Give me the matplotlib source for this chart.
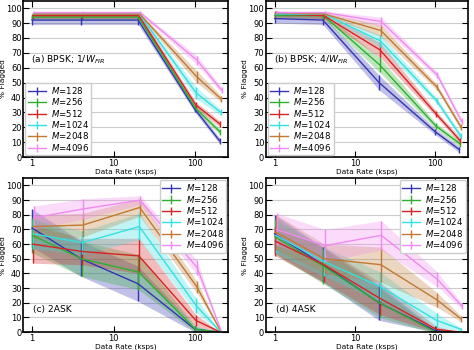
import matplotlib
matplotlib.use('Agg')
import matplotlib.pyplot as plt
import numpy as np

rates = [1, 4, 20, 100, 200]
m_values = [128, 256, 512, 1024, 2048, 4096]
colors = ['#3434b4', '#2eb02e', '#d42424', '#34e0e0', '#c07a34', '#f08af0']

# panel (a) BPSK 1/W_FIR
a_vals = [[92, 92, 92, 32, 11],
          [94, 94, 94, 33, 17],
          [95, 95, 95, 35, 22],
          [96, 96, 96, 43, 30],
          [96, 96, 96, 54, 39],
          [97, 97, 97, 65, 45]]
a_err = [[3, 3, 3, 2, 2],
         [2, 2, 2, 2, 2],
         [2, 2, 2, 2, 2],
         [1, 1, 1, 4, 2],
         [1, 1, 1, 4, 2],
         [1, 1, 1, 3, 2]]

# panel (b) BPSK 4/W_FIR
b_vals = [[93, 92, 50, 17, 5],
          [95, 95, 62, 21, 9],
          [96, 95, 72, 29, 11],
          [96, 96, 78, 38, 14],
          [97, 96, 85, 47, 20],
          [97, 97, 91, 55, 24]]
b_err = [[3, 3, 5, 2, 2],
         [2, 2, 5, 2, 2],
         [2, 2, 5, 2, 2],
         [1, 1, 4, 2, 2],
         [1, 1, 4, 2, 2],
         [1, 1, 3, 2, 2]]

# panel (c) 2ASK
c_vals = [[71, 50, 33, 2, 0],
          [66, 50, 41, 2, 0],
          [60, 55, 52, 8, 0],
          [67, 61, 72, 18, 0],
          [72, 73, 85, 31, 0],
          [78, 84, 90, 44, 0]]
c_err = [[13, 12, 12, 2, 0],
         [12, 12, 12, 2, 0],
         [13, 9, 12, 4, 0],
         [10, 8, 9, 5, 0],
         [8, 8, 6, 4, 0],
         [8, 7, 3, 5, 0]]

# panel (d) 4ASK
d_vals = [[67, 46, 20, 1, 0],
          [65, 45, 20, 0, 0],
          [62, 46, 23, 2, 0],
          [66, 48, 31, 8, 2],
          [68, 50, 46, 22, 9],
          [70, 59, 66, 36, 18]]
d_err = [[13, 12, 12, 1, 0],
         [12, 12, 10, 1, 0],
         [10, 12, 11, 2, 0],
         [12, 10, 10, 5, 1],
         [12, 10, 12, 5, 2],
         [11, 11, 10, 5, 2]]

panels = [
    (a_vals, a_err, '(a) BPSK; $1/W_{FIR}$', 'lower left', [0.049, 0.551, 0.432, 0.447]),
    (b_vals, b_err, '(b) BPSK; $4/W_{FIR}$', 'lower left', [0.561, 0.551, 0.426, 0.447]),
    (c_vals, c_err, '(c) 2ASK', 'upper right', [0.049, 0.051, 0.432, 0.440]),
    (d_vals, d_err, '(d) 4ASK', 'upper right', [0.561, 0.051, 0.426, 0.440]),
]

fig = plt.figure(figsize=(4.74, 3.5), dpi=100)

for vals, errs, label, loc, rect in panels:
    ax = fig.add_axes(rect)
    for i, m in enumerate(m_values):
        x = np.array(rates) * (1.012 ** i)
        y = np.array(vals[i], dtype=float)
        e = np.array(errs[i], dtype=float)
        ax.fill_between(x, y - e, y + e, color=colors[i], alpha=0.3, lw=0)
        ax.errorbar(x, y, yerr=e, color=colors[i], lw=1.0, elinewidth=1.0,
                    capsize=0, label='$M$=%d' % m)
    ax.set_xscale('log')
    ax.set_xlim(0.78, 254)
    ax.set_ylim(0, 105)
    ax.set_yticks(range(0, 101, 10))
    ax.set_xticks([1, 10, 100])
    ax.set_xticklabels(['1', '10', '100'])
    ax.xaxis.set_minor_locator(matplotlib.ticker.NullLocator())
    ax.tick_params(direction='in', top=True, right=True, labelsize=6, length=4, pad=1.2)
    ax.grid(axis='y', color='#cccccc', lw=0.8)
    ax.set_axisbelow(True)
    for s in ax.spines.values():
        s.set_linewidth(1.2)
    ax.set_xlabel('Data Rate (ksps)', fontsize=5.3, labelpad=0.3)
    ax.set_ylabel('% Flagged', fontsize=5.3, labelpad=0)
    if loc == 'lower left':
        ax.text(0.04, 0.62, label, transform=ax.transAxes, fontsize=6.6, va='center')
    else:
        ax.text(0.05, 0.145, label, transform=ax.transAxes, fontsize=6.6, va='center')
    ax.legend(loc=loc, fontsize=6.2, handlelength=2.1, labelspacing=0.04,
              borderpad=0.3, handletextpad=0.6, framealpha=1,
              edgecolor='#cccccc', fancybox=True, borderaxespad=0.2)

fig.savefig('out.png', dpi=100)
